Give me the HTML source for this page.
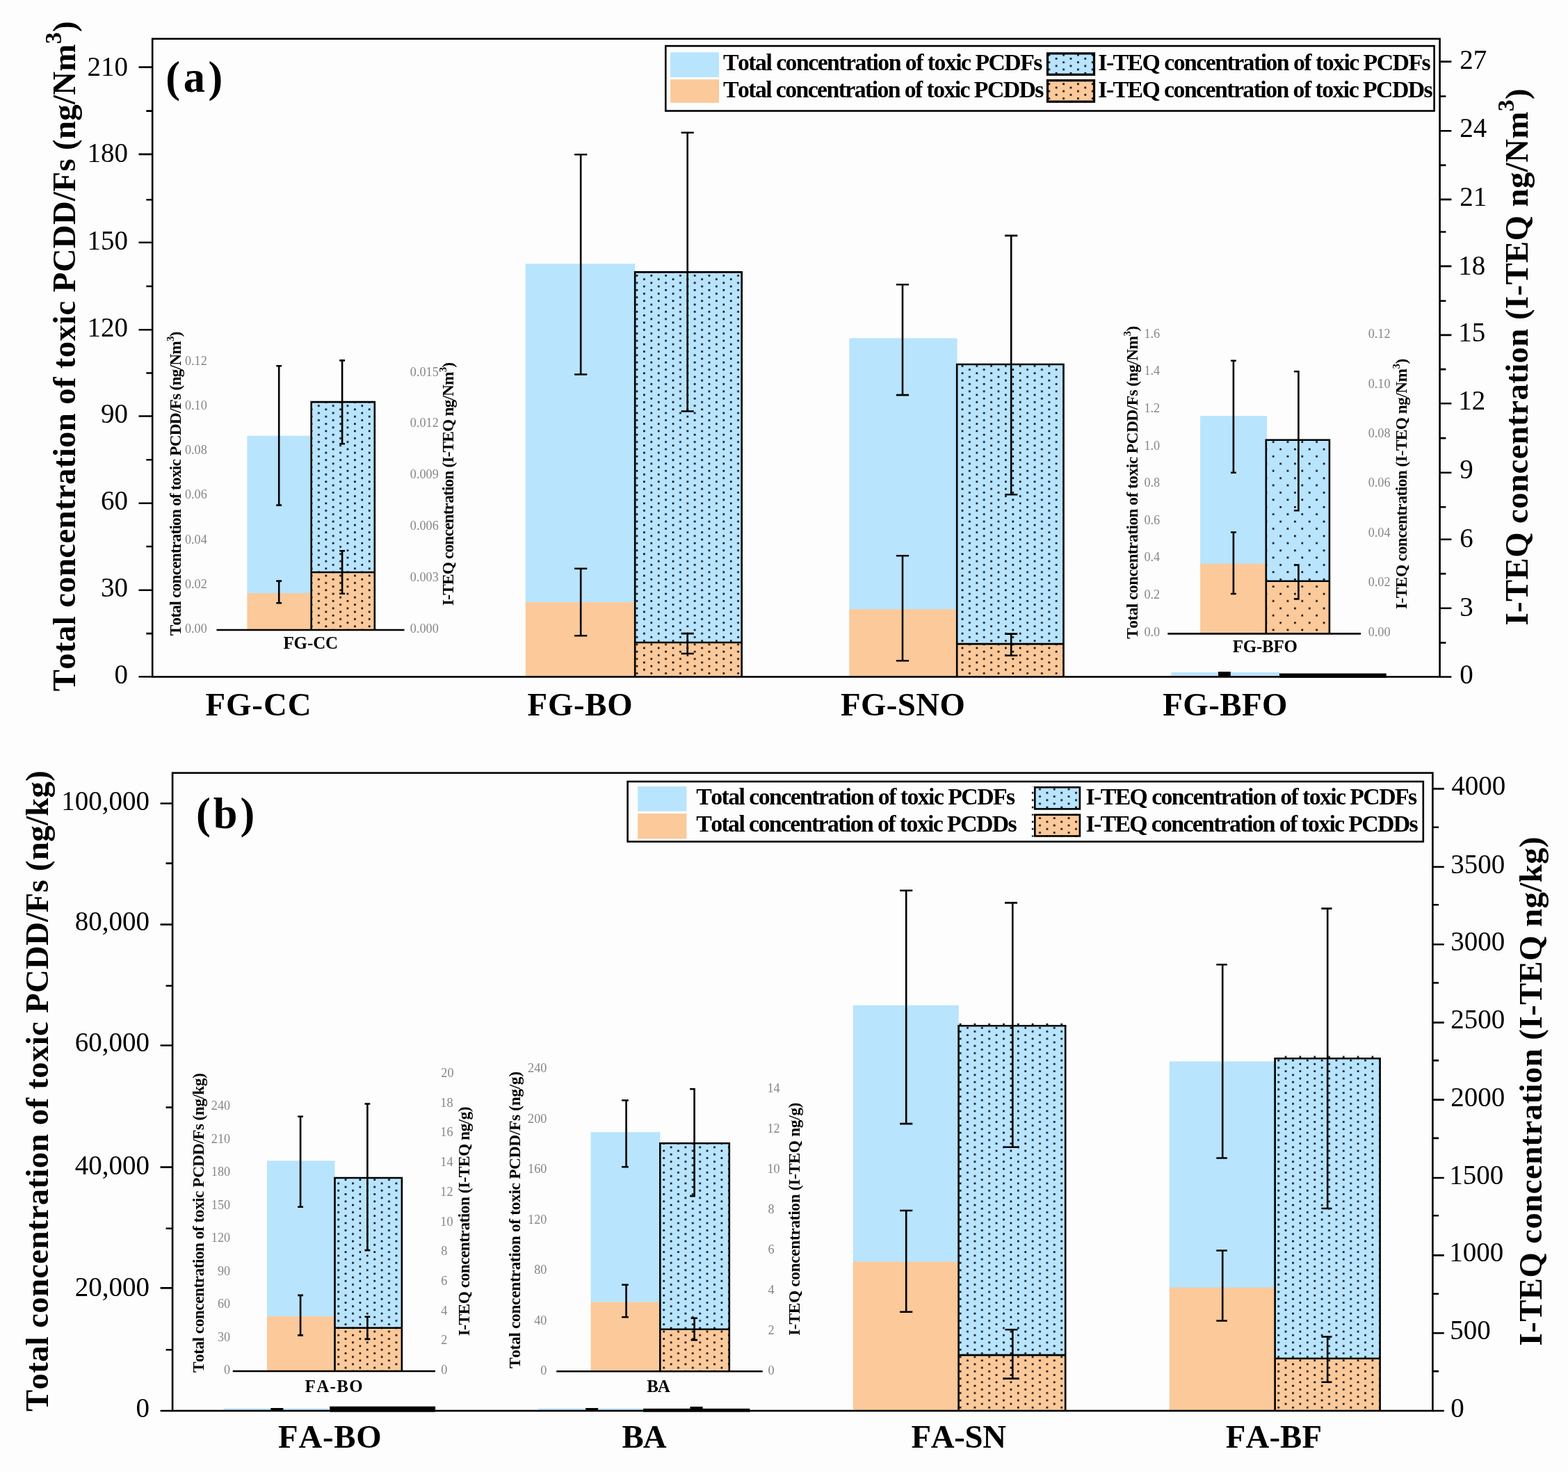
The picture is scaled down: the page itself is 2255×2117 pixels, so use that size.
<!DOCTYPE html>
<html lang="en">
<head>
<meta charset="utf-8">
<title>Total and I-TEQ concentrations of toxic PCDD/Fs</title>
<style>
html,body{margin:0;padding:0;background:#fdfdfd;}
body{width:2255px;height:2117px;overflow:hidden;}
svg{display:block;}
svg text{font-family:"Liberation Serif","Times New Roman",Times,serif;font-kerning:none;white-space:pre;}
</style>
</head>
<body>
<svg width="2255" height="2117" viewBox="0 0 2255 2117">
<defs>
<pattern id="pa" patternUnits="userSpaceOnUse" x="0" y="0" width="20.8" height="10.4"><rect x="-0.50" y="-0.10" width="2.6" height="2.6" fill="#000"/><rect x="-0.50" y="10.30" width="2.6" height="2.6" fill="#000"/><rect x="20.30" y="-0.10" width="2.6" height="2.6" fill="#000"/><rect x="20.30" y="10.30" width="2.6" height="2.6" fill="#000"/><rect x="9.90" y="5.10" width="2.6" height="2.6" fill="#000"/></pattern>
<pattern id="pb" patternUnits="userSpaceOnUse" x="0" y="0" width="20.8" height="10.4"><rect x="17.40" y="0.20" width="2.6" height="2.6" fill="#000"/><rect x="7.00" y="5.40" width="2.6" height="2.6" fill="#000"/></pattern>
<pattern id="ps" patternUnits="userSpaceOnUse" x="0" y="0" width="20.8" height="20.8"><rect x="-0.50" y="10.30" width="2.6" height="2.6" fill="#000"/><rect x="20.30" y="10.30" width="2.6" height="2.6" fill="#000"/><rect x="9.90" y="0.00" width="2.6" height="2.6" fill="#000"/></pattern>
</defs>
<rect width="2255" height="2117" fill="#fdfdfd"/>
<rect x="755.80" y="379.30" width="157.40" height="487.10" fill="#b8e4fd"/>
<rect x="755.80" y="866.10" width="157.40" height="107.30" fill="#fbc99a"/>
<rect x="913.20" y="391.40" width="153.50" height="532.60" fill="#b8e4fd"/>
<rect x="913.20" y="924.00" width="153.50" height="49.40" fill="#fbc99a"/>
<rect x="913.20" y="391.40" width="153.50" height="582.00" fill="url(#pa)"/>
<path d="M913.20 973.40V391.40H1066.70V973.40M913.20 924.00H1066.70" fill="none" stroke="#000" stroke-width="2.6" stroke-linejoin="miter"/>
<rect x="1221.30" y="486.40" width="155.20" height="390.10" fill="#b8e4fd"/>
<rect x="1221.30" y="876.20" width="155.20" height="97.20" fill="#fbc99a"/>
<rect x="1376.20" y="524.00" width="153.30" height="402.10" fill="#b8e4fd"/>
<rect x="1376.20" y="926.10" width="153.30" height="47.30" fill="#fbc99a"/>
<rect x="1376.20" y="524.00" width="153.30" height="449.40" fill="url(#pa)"/>
<path d="M1376.20 973.40V524.00H1529.50V973.40M1376.20 926.10H1529.50" fill="none" stroke="#000" stroke-width="2.6" stroke-linejoin="miter"/>
<rect x="1684.30" y="967.00" width="155.60" height="6.40" fill="#b8e4fd"/>
<rect x="1752.00" y="966.00" width="17.80" height="6.50" fill="#000"/>
<rect x="1839.90" y="968.50" width="153.80" height="6.20" fill="#000"/>
<path d="M835.20 222.20V538.50M826.10 222.20H844.30M826.10 538.50H844.30" fill="none" stroke="#000" stroke-width="2.6"/>
<path d="M835.20 817.80V914.30M826.10 817.80H844.30M826.10 914.30H844.30" fill="none" stroke="#000" stroke-width="2.6"/>
<path d="M988.70 190.80V591.50M979.60 190.80H997.80M979.60 591.50H997.80" fill="none" stroke="#000" stroke-width="2.6"/>
<path d="M988.70 911.10V940.00M979.60 911.10H997.80M979.60 940.00H997.80" fill="none" stroke="#000" stroke-width="2.6"/>
<path d="M1298.00 409.20V568.10M1288.90 409.20H1307.10M1288.90 568.10H1307.10" fill="none" stroke="#000" stroke-width="2.6"/>
<path d="M1298.00 799.30V950.20M1288.90 799.30H1307.10M1288.90 950.20H1307.10" fill="none" stroke="#000" stroke-width="2.6"/>
<path d="M1454.20 338.90V711.30M1445.10 338.90H1463.30M1445.10 711.30H1463.30" fill="none" stroke="#000" stroke-width="2.6"/>
<path d="M1454.20 911.60V942.80M1445.10 911.60H1463.30M1445.10 942.80H1463.30" fill="none" stroke="#000" stroke-width="2.6"/>
<rect x="355.40" y="626.70" width="92.30" height="226.60" fill="#b8e4fd"/>
<rect x="355.40" y="853.00" width="92.30" height="53.00" fill="#fbc99a"/>
<rect x="447.70" y="578.10" width="91.10" height="244.90" fill="#b8e4fd"/>
<rect x="447.70" y="823.00" width="91.10" height="83.00" fill="#fbc99a"/>
<rect x="447.70" y="578.10" width="91.10" height="327.90" fill="url(#pa)"/>
<path d="M447.70 906.00V578.10H538.80V906.00M447.70 823.00H538.80" fill="none" stroke="#000" stroke-width="2.6" stroke-linejoin="miter"/>
<path d="M311.50 906.00L581.50 906.00" stroke="#000" stroke-width="2.6"/>
<path d="M401.20 526.20V726.60M397.30 526.20H405.10M397.30 726.60H405.10" fill="none" stroke="#000" stroke-width="2.6"/>
<path d="M401.20 835.60V867.20M397.30 835.60H405.10M397.30 867.20H405.10" fill="none" stroke="#000" stroke-width="2.6"/>
<path d="M492.10 518.40V638.30M488.20 518.40H496.00M488.20 638.30H496.00" fill="none" stroke="#000" stroke-width="2.6"/>
<path d="M492.10 792.20V853.80M488.20 792.20H496.00M488.20 853.80H496.00" fill="none" stroke="#000" stroke-width="2.6"/>
<rect x="1726.10" y="598.20" width="95.90" height="212.80" fill="#b8e4fd"/>
<rect x="1726.10" y="810.70" width="95.90" height="100.70" fill="#fbc99a"/>
<rect x="1820.80" y="632.80" width="91.10" height="202.90" fill="#b8e4fd"/>
<rect x="1820.80" y="835.70" width="91.10" height="75.70" fill="#fbc99a"/>
<rect x="1820.80" y="632.80" width="91.10" height="278.60" fill="url(#ps)"/>
<path d="M1820.80 911.40V632.80H1911.90V911.40M1820.80 835.70H1911.90" fill="none" stroke="#000" stroke-width="2.6" stroke-linejoin="miter"/>
<path d="M1679.30 911.40L1957.00 911.40" stroke="#000" stroke-width="2.6"/>
<path d="M1773.90 518.70V679.80M1770.00 518.70H1777.80M1770.00 679.80H1777.80" fill="none" stroke="#000" stroke-width="2.6"/>
<path d="M1773.90 765.50V854.00M1770.00 765.50H1777.80M1770.00 854.00H1777.80" fill="none" stroke="#000" stroke-width="2.6"/>
<path d="M1867.40 534.30V734.30M1860.90 534.30H1868.70M1860.90 734.30H1868.70" fill="none" stroke="#000" stroke-width="2.6"/>
<path d="M1867.40 812.50V861.40M1860.90 812.50H1868.70M1860.90 861.40H1868.70" fill="none" stroke="#000" stroke-width="2.6"/>
<rect x="219.2" y="55.8" width="1851.40" height="917.60" fill="none" stroke="#000" stroke-width="2.6"/>
<path d="M199.5 973.30H219.2M199.5 848.80H219.2M199.5 723.80H219.2M199.5 598.50H219.2M199.5 474.20H219.2M199.5 348.70H219.2M199.5 221.90H219.2M199.5 96.60H219.2M210.3 911.10H219.2M210.3 786.00H219.2M210.3 661.30H219.2M210.3 536.50H219.2M210.3 411.70H219.2M210.3 287.20H219.2M210.3 159.60H219.2M2070.6 973.50H2087.4M2070.6 874.80H2087.4M2070.6 775.70H2087.4M2070.6 679.80H2087.4M2070.6 580.20H2087.4M2070.6 481.90H2087.4M2070.6 382.90H2087.4M2070.6 286.90H2087.4M2070.6 188.20H2087.4M2070.6 88.60H2087.4M2070.6 924.40H2079.4M2070.6 825.10H2079.4M2070.6 729.20H2079.4M2070.6 630.10H2079.4M2070.6 531.10H2079.4M2070.6 432.80H2079.4M2070.6 333.50H2079.4M2070.6 237.60H2079.4M2070.6 138.50H2079.4" fill="none" stroke="#000" stroke-width="2.6"/>
<text x="164.40" y="982.90" style="font-size:39.0px;">0</text>
<text x="144.90" y="857.80" style="font-size:39.0px;">30</text>
<text x="144.90" y="733.00" style="font-size:39.0px;">60</text>
<text x="144.90" y="607.60" style="font-size:39.0px;">90</text>
<text x="125.40" y="483.70" style="font-size:39.0px;">120</text>
<text x="125.40" y="358.50" style="font-size:39.0px;">150</text>
<text x="125.40" y="233.40" style="font-size:39.0px;">180</text>
<text x="125.40" y="108.70" style="font-size:39.0px;">210</text>
<text x="2099.30" y="982.80" style="font-size:39.0px;">0</text>
<text x="2099.30" y="886.10" style="font-size:39.0px;">3</text>
<text x="2099.30" y="787.30" style="font-size:39.0px;">6</text>
<text x="2099.30" y="688.30" style="font-size:39.0px;">9</text>
<text x="2097.30" y="589.20" style="font-size:39.0px;">12</text>
<text x="2097.30" y="490.70" style="font-size:39.0px;">15</text>
<text x="2097.30" y="394.50" style="font-size:39.0px;">18</text>
<text x="2099.30" y="296.00" style="font-size:39.0px;">21</text>
<text x="2099.30" y="196.90" style="font-size:39.0px;">24</text>
<text x="2099.30" y="98.60" style="font-size:39.0px;">27</text>
<text transform="translate(108.00,994.20) rotate(-90)" style="font-size:46.8px;font-weight:bold;letter-spacing:0.342px;"><tspan>Total concentration of toxic PCDD/Fs (ng/Nm</tspan><tspan dy="-20.36" style="font-size:33.70px">3</tspan><tspan dy="20.36">)</tspan></text>
<text transform="translate(2196.50,899.60) rotate(-90)" style="font-size:46.8px;font-weight:bold;letter-spacing:0.397px;"><tspan>I-TEQ concentration (I-TEQ ng/Nm</tspan><tspan dy="-19.19" style="font-size:33.70px">3</tspan><tspan dy="19.19">)</tspan></text>
<text x="238.20" y="131.60" style="font-size:62.4px;font-weight:bold;letter-spacing:4.714px;">(a)</text>
<rect x="957.3" y="66.1" width="1105.30" height="93.40" fill="#fdfdfd" stroke="#000" stroke-width="2.6"/>
<rect x="964.10" y="75.30" width="69.90" height="35.80" fill="#b8e4fd"/>
<rect x="964.10" y="114.20" width="69.90" height="33.60" fill="#fbc99a"/>
<rect x="1504.90" y="75.30" width="70.20" height="33.60" fill="#b8e4fd"/>
<rect x="1504.90" y="75.30" width="70.20" height="33.60" fill="url(#pa)"/>
<rect x="1506.50" y="76.90" width="67.00" height="30.40" fill="none" stroke="#000" stroke-width="3.2"/>
<rect x="1504.90" y="114.10" width="70.20" height="33.70" fill="#fbc99a"/>
<rect x="1504.90" y="114.10" width="70.20" height="33.70" fill="url(#pa)"/>
<rect x="1506.50" y="115.70" width="67.00" height="30.50" fill="none" stroke="#000" stroke-width="3.2"/>
<text x="1040.00" y="100.90" style="font-size:33.8px;font-weight:bold;letter-spacing:-1.550px;">Total concentration of toxic PCDFs</text>
<text x="1040.00" y="139.80" style="font-size:33.8px;font-weight:bold;letter-spacing:-1.604px;">Total concentration of toxic PCDDs</text>
<text x="1579.30" y="100.90" style="font-size:33.8px;font-weight:bold;letter-spacing:-1.547px;">I-TEQ concentration of toxic PCDFs</text>
<text x="1579.30" y="139.80" style="font-size:33.8px;font-weight:bold;letter-spacing:-1.567px;">I-TEQ concentration of toxic PCDDs</text>
<text x="295.40" y="1029.00" style="font-size:46.8px;font-weight:bold;letter-spacing:0.984px;">FG-CC</text>
<text x="758.60" y="1029.00" style="font-size:46.8px;font-weight:bold;letter-spacing:0.704px;">FG-BO</text>
<text x="1208.90" y="1029.00" style="font-size:46.8px;font-weight:bold;letter-spacing:0.462px;">FG-SNO</text>
<text x="1672.30" y="1029.00" style="font-size:46.8px;font-weight:bold;letter-spacing:0.466px;">FG-BFO</text>
<text transform="translate(259.70,914.30) rotate(-90)" style="font-size:23.4px;font-weight:bold;letter-spacing:-0.809px;"><tspan>Total concentration of toxic PCDD/Fs (ng/Nm</tspan><tspan dy="-10.06" style="font-size:14.98px">3</tspan><tspan dy="10.06">)</tspan></text>
<text transform="translate(652.00,871.00) rotate(-90)" style="font-size:23.4px;font-weight:bold;letter-spacing:-0.860px;"><tspan>I-TEQ concentration (I-TEQ ng/Nm</tspan><tspan dy="-10.06" style="font-size:14.98px">3</tspan><tspan dy="10.06">)</tspan></text>
<text x="265.97" y="910.01" style="font-size:18.2px;fill:#868686;">0.00</text>
<text x="265.97" y="845.81" style="font-size:18.2px;fill:#868686;">0.02</text>
<text x="265.97" y="781.61" style="font-size:18.2px;fill:#868686;">0.04</text>
<text x="265.97" y="717.41" style="font-size:18.2px;fill:#868686;">0.06</text>
<text x="265.97" y="653.21" style="font-size:18.2px;fill:#868686;">0.08</text>
<text x="265.97" y="589.01" style="font-size:18.2px;fill:#868686;">0.10</text>
<text x="265.97" y="524.81" style="font-size:18.2px;fill:#868686;">0.12</text>
<text x="589.80" y="909.51" style="font-size:18.2px;fill:#868686;">0.000</text>
<text x="589.80" y="835.71" style="font-size:18.2px;fill:#868686;">0.003</text>
<text x="589.80" y="761.91" style="font-size:18.2px;fill:#868686;">0.006</text>
<text x="589.80" y="688.11" style="font-size:18.2px;fill:#868686;">0.009</text>
<text x="589.80" y="614.31" style="font-size:18.2px;fill:#868686;">0.012</text>
<text x="589.80" y="540.51" style="font-size:18.2px;fill:#868686;">0.015</text>
<text x="407.40" y="932.80" style="font-size:25.0px;font-weight:bold;letter-spacing:-0.099px;">FG-CC</text>
<text transform="translate(1635.70,918.80) rotate(-90)" style="font-size:23.4px;font-weight:bold;letter-spacing:-0.527px;"><tspan>Total concentration of toxic PCDD/Fs (ng/Nm</tspan><tspan dy="-10.06" style="font-size:14.98px">3</tspan><tspan dy="10.06">)</tspan></text>
<text transform="translate(2023.00,876.00) rotate(-90)" style="font-size:23.4px;font-weight:bold;letter-spacing:-0.554px;"><tspan>I-TEQ concentration (I-TEQ ng/Nm</tspan><tspan dy="-10.06" style="font-size:14.98px">3</tspan><tspan dy="10.06">)</tspan></text>
<text x="1645.46" y="914.51" style="font-size:18.2px;fill:#868686;">0.0</text>
<text x="1645.46" y="860.91" style="font-size:18.2px;fill:#868686;">0.2</text>
<text x="1645.46" y="807.31" style="font-size:18.2px;fill:#868686;">0.4</text>
<text x="1645.46" y="753.71" style="font-size:18.2px;fill:#868686;">0.6</text>
<text x="1645.46" y="700.11" style="font-size:18.2px;fill:#868686;">0.8</text>
<text x="1645.46" y="646.51" style="font-size:18.2px;fill:#868686;">1.0</text>
<text x="1645.46" y="592.91" style="font-size:18.2px;fill:#868686;">1.2</text>
<text x="1645.46" y="539.31" style="font-size:18.2px;fill:#868686;">1.4</text>
<text x="1645.46" y="485.71" style="font-size:18.2px;fill:#868686;">1.6</text>
<text x="1967.70" y="914.51" style="font-size:18.2px;fill:#868686;">0.00</text>
<text x="1967.70" y="843.11" style="font-size:18.2px;fill:#868686;">0.02</text>
<text x="1967.70" y="771.71" style="font-size:18.2px;fill:#868686;">0.04</text>
<text x="1967.70" y="700.31" style="font-size:18.2px;fill:#868686;">0.06</text>
<text x="1967.70" y="628.91" style="font-size:18.2px;fill:#868686;">0.08</text>
<text x="1967.70" y="557.51" style="font-size:18.2px;fill:#868686;">0.10</text>
<text x="1967.70" y="486.11" style="font-size:18.2px;fill:#868686;">0.12</text>
<text x="1772.70" y="938.00" style="font-size:25.0px;font-weight:bold;letter-spacing:-0.238px;">FG-BFO</text>
<rect x="1226.80" y="1445.80" width="152.00" height="369.10" fill="#b8e4fd"/>
<rect x="1226.80" y="1814.60" width="152.00" height="214.40" fill="#fbc99a"/>
<rect x="1378.60" y="1475.20" width="153.60" height="473.70" fill="#b8e4fd"/>
<rect x="1378.60" y="1948.90" width="153.60" height="80.10" fill="#fbc99a"/>
<rect x="1378.60" y="1471.20" width="153.60" height="557.80" fill="url(#pb)"/>
<path d="M1378.60 2029.00V1475.20H1532.20V2029.00M1378.60 1948.90H1532.20" fill="none" stroke="#000" stroke-width="2.6" stroke-linejoin="miter"/>
<rect x="1681.80" y="1526.50" width="152.00" height="325.50" fill="#b8e4fd"/>
<rect x="1681.80" y="1851.70" width="152.00" height="177.30" fill="#fbc99a"/>
<rect x="1833.60" y="1522.20" width="151.00" height="431.50" fill="#b8e4fd"/>
<rect x="1833.60" y="1953.70" width="151.00" height="75.30" fill="#fbc99a"/>
<rect x="1833.60" y="1518.20" width="151.00" height="510.80" fill="url(#pb)"/>
<path d="M1833.60 2029.00V1522.20H1984.60V2029.00M1833.60 1953.70H1984.60" fill="none" stroke="#000" stroke-width="2.6" stroke-linejoin="miter"/>
<rect x="321.60" y="2025.60" width="151.20" height="3.40" fill="#b8e4fd"/>
<rect x="389.30" y="2025.00" width="18.10" height="4.50" fill="#000"/>
<rect x="474.20" y="2022.70" width="151.90" height="7.90" fill="#000"/>
<rect x="774.20" y="2025.60" width="150.90" height="3.40" fill="#b8e4fd"/>
<rect x="842.20" y="2025.00" width="17.90" height="4.50" fill="#000"/>
<rect x="925.10" y="2025.80" width="153.30" height="4.80" fill="#000"/>
<rect x="992.50" y="2023.00" width="18.10" height="6.00" fill="#000"/>
<path d="M1303.20 1280.70V1616.10M1294.10 1280.70H1312.30M1294.10 1616.10H1312.30" fill="none" stroke="#000" stroke-width="2.6"/>
<path d="M1303.20 1741.00V1886.70M1294.10 1741.00H1312.30M1294.10 1886.70H1312.30" fill="none" stroke="#000" stroke-width="2.6"/>
<path d="M1456.30 1298.40V1649.80M1445.00 1298.40H1463.00M1442.90 1649.80H1465.60" fill="none" stroke="#000" stroke-width="2.6"/>
<path d="M1456.30 1912.30V1982.60M1445.50 1912.30H1463.50M1442.90 1982.60H1465.60" fill="none" stroke="#000" stroke-width="2.6"/>
<path d="M1758.20 1387.20V1665.50M1749.30 1387.20H1764.80M1749.30 1665.50H1764.80" fill="none" stroke="#000" stroke-width="2.6"/>
<path d="M1758.20 1798.50V1899.50M1749.30 1798.50H1764.80M1749.30 1899.50H1764.80" fill="none" stroke="#000" stroke-width="2.6"/>
<path d="M1909.20 1306.60V1738.00M1900.30 1306.60H1915.50M1900.30 1738.00H1915.50" fill="none" stroke="#000" stroke-width="2.6"/>
<path d="M1909.20 1922.50V1987.70M1900.30 1922.50H1915.50M1900.30 1987.70H1915.50" fill="none" stroke="#000" stroke-width="2.6"/>
<rect x="384.00" y="1669.40" width="97.60" height="224.10" fill="#b8e4fd"/>
<rect x="384.00" y="1893.20" width="97.60" height="78.80" fill="#fbc99a"/>
<rect x="481.50" y="1694.00" width="96.40" height="215.80" fill="#b8e4fd"/>
<rect x="481.50" y="1909.80" width="96.40" height="62.20" fill="#fbc99a"/>
<rect x="481.50" y="1694.00" width="96.40" height="278.00" fill="url(#pb)"/>
<path d="M481.50 1972.00V1694.00H577.90V1972.00M481.50 1909.80H577.90" fill="none" stroke="#000" stroke-width="2.6" stroke-linejoin="miter"/>
<path d="M334.80 1972.00L626.00 1972.00" stroke="#000" stroke-width="2.6"/>
<path d="M432.10 1605.70V1735.70M428.20 1605.70H436.00M428.20 1735.70H436.00" fill="none" stroke="#000" stroke-width="2.6"/>
<path d="M432.10 1862.90V1920.40M428.20 1862.90H436.00M428.20 1920.40H436.00" fill="none" stroke="#000" stroke-width="2.6"/>
<path d="M528.40 1587.50V1798.10M524.50 1587.50H532.30M524.50 1798.10H532.30" fill="none" stroke="#000" stroke-width="2.6"/>
<path d="M528.40 1893.70V1925.90M524.50 1893.70H532.30M524.50 1925.90H532.30" fill="none" stroke="#000" stroke-width="2.6"/>
<rect x="849.60" y="1628.20" width="99.80" height="244.60" fill="#b8e4fd"/>
<rect x="849.60" y="1872.50" width="99.80" height="99.80" fill="#fbc99a"/>
<rect x="949.30" y="1644.30" width="99.50" height="267.50" fill="#b8e4fd"/>
<rect x="949.30" y="1911.80" width="99.50" height="60.50" fill="#fbc99a"/>
<rect x="949.30" y="1644.30" width="99.50" height="328.00" fill="url(#pb)"/>
<path d="M949.30 1972.30V1644.30H1048.80V1972.30M949.30 1911.80H1048.80" fill="none" stroke="#000" stroke-width="2.6" stroke-linejoin="miter"/>
<path d="M800.20 1972.30L1096.70 1972.30" stroke="#000" stroke-width="2.6"/>
<path d="M900.60 1582.50V1678.30M894.10 1582.50H903.90M894.10 1678.30H903.90" fill="none" stroke="#000" stroke-width="2.6"/>
<path d="M900.60 1847.70V1894.30M894.10 1847.70H903.90M894.10 1894.30H903.90" fill="none" stroke="#000" stroke-width="2.6"/>
<path d="M998.60 1566.30V1720.10M992.10 1566.30H999.90M992.10 1720.10H999.90" fill="none" stroke="#000" stroke-width="2.6"/>
<path d="M998.60 1895.70V1927.10M993.60 1895.70H1003.00M993.60 1927.10H1003.00" fill="none" stroke="#000" stroke-width="2.6"/>
<rect x="248.1" y="1111.6" width="1812.30" height="917.40" fill="none" stroke="#000" stroke-width="2.6"/>
<path d="M230.6 2029.00H248.1M230.6 1852.40H248.1M230.6 1678.60H248.1M230.6 1503.50H248.1M230.6 1329.60H248.1M230.6 1155.50H248.1M238.6 1941.20H248.1M238.6 1766.80H248.1M238.6 1592.60H248.1M238.6 1417.80H248.1M238.6 1241.60H248.1M2060.4 2029.00H2076.8M2060.4 1917.30H2076.8M2060.4 1805.40H2076.8M2060.4 1694.00H2076.8M2060.4 1581.60H2076.8M2060.4 1470.60H2076.8M2060.4 1358.20H2076.8M2060.4 1246.80H2076.8M2060.4 1134.40H2076.8M2060.4 1972.10H2069.1M2060.4 1860.70H2069.1M2060.4 1748.30H2069.1M2060.4 1636.90H2069.1M2060.4 1525.10H2069.1M2060.4 1413.50H2069.1M2060.4 1301.30H2069.1M2060.4 1189.70H2069.1" fill="none" stroke="#000" stroke-width="2.6"/>
<text x="195.50" y="2037.50" style="font-size:39.0px;">0</text>
<text x="107.75" y="1864.00" style="font-size:39.0px;">20,000</text>
<text x="107.75" y="1689.20" style="font-size:39.0px;">40,000</text>
<text x="107.75" y="1511.70" style="font-size:39.0px;">60,000</text>
<text x="107.75" y="1338.10" style="font-size:39.0px;">80,000</text>
<text x="88.25" y="1164.50" style="font-size:39.0px;">100,000</text>
<text x="2086.30" y="2037.70" style="font-size:39.0px;">0</text>
<text x="2085.30" y="1926.30" style="font-size:39.0px;">500</text>
<text x="2084.30" y="1814.40" style="font-size:39.0px;">1000</text>
<text x="2084.30" y="1703.00" style="font-size:39.0px;">1500</text>
<text x="2086.30" y="1590.60" style="font-size:39.0px;">2000</text>
<text x="2086.30" y="1479.10" style="font-size:39.0px;">2500</text>
<text x="2086.30" y="1367.20" style="font-size:39.0px;">3000</text>
<text x="2086.30" y="1255.80" style="font-size:39.0px;">3500</text>
<text x="2087.30" y="1143.40" style="font-size:39.0px;">4000</text>
<text transform="translate(68.50,2030.00) rotate(-90)" style="font-size:46.8px;font-weight:bold;letter-spacing:0.310px;"><tspan>Total concentration of toxic PCDD/Fs (ng/kg)</tspan></text>
<text transform="translate(2216.70,1935.40) rotate(-90)" style="font-size:46.8px;font-weight:bold;letter-spacing:0.409px;"><tspan>I-TEQ concentration (I-TEQ ng/kg)</tspan></text>
<text x="282.00" y="1190.50" style="font-size:62.4px;font-weight:bold;letter-spacing:4.062px;">(b)</text>
<rect x="902.6" y="1124.0" width="1144.20" height="86.40" fill="#fdfdfd" stroke="#000" stroke-width="2.6"/>
<rect x="917.20" y="1131.00" width="70.20" height="35.70" fill="#b8e4fd"/>
<rect x="917.20" y="1170.00" width="70.20" height="36.20" fill="#fbc99a"/>
<rect x="1487.00" y="1131.00" width="67.20" height="33.70" fill="#b8e4fd"/>
<rect x="1483.50" y="1131.00" width="70.70" height="33.70" fill="url(#pb)"/>
<rect x="1488.30" y="1132.30" width="64.60" height="31.10" fill="none" stroke="#000" stroke-width="2.6"/>
<rect x="1487.00" y="1170.50" width="67.20" height="33.20" fill="#fbc99a"/>
<rect x="1483.50" y="1170.50" width="70.70" height="33.20" fill="url(#pb)"/>
<rect x="1488.30" y="1171.80" width="64.60" height="30.60" fill="none" stroke="#000" stroke-width="2.6"/>
<text x="1001.20" y="1156.60" style="font-size:33.8px;font-weight:bold;letter-spacing:-1.563px;">Total concentration of toxic PCDFs</text>
<text x="1001.20" y="1195.80" style="font-size:33.8px;font-weight:bold;letter-spacing:-1.601px;">Total concentration of toxic PCDDs</text>
<text x="1561.50" y="1156.60" style="font-size:33.8px;font-weight:bold;letter-spacing:-1.599px;">I-TEQ concentration of toxic PCDFs</text>
<text x="1561.50" y="1195.80" style="font-size:33.8px;font-weight:bold;letter-spacing:-1.670px;">I-TEQ concentration of toxic PCDDs</text>
<text x="400.10" y="2082.40" style="font-size:46.8px;font-weight:bold;letter-spacing:0.731px;">FA-BO</text>
<text x="894.50" y="2082.40" style="font-size:46.8px;font-weight:bold;letter-spacing:-1.013px;">BA</text>
<text x="1310.40" y="2082.40" style="font-size:46.8px;font-weight:bold;letter-spacing:-0.298px;">FA-SN</text>
<text x="1762.70" y="2082.40" style="font-size:46.8px;font-weight:bold;letter-spacing:0.156px;">FA-BF</text>
<text transform="translate(293.30,1974.00) rotate(-90)" style="font-size:23.4px;font-weight:bold;letter-spacing:-0.543px;"><tspan>Total concentration of toxic PCDD/Fs (ng/kg)</tspan></text>
<text transform="translate(674.70,1921.30) rotate(-90)" style="font-size:23.4px;font-weight:bold;letter-spacing:-0.533px;"><tspan>I-TEQ concentration (I-TEQ ng/g)</tspan></text>
<text x="322.00" y="1976.01" style="font-size:18.2px;fill:#868686;">0</text>
<text x="312.91" y="1928.51" style="font-size:18.2px;fill:#868686;">30</text>
<text x="312.91" y="1881.01" style="font-size:18.2px;fill:#868686;">60</text>
<text x="312.91" y="1833.51" style="font-size:18.2px;fill:#868686;">90</text>
<text x="303.81" y="1786.01" style="font-size:18.2px;fill:#868686;">120</text>
<text x="303.81" y="1738.51" style="font-size:18.2px;fill:#868686;">150</text>
<text x="303.81" y="1691.01" style="font-size:18.2px;fill:#868686;">180</text>
<text x="303.81" y="1643.51" style="font-size:18.2px;fill:#868686;">210</text>
<text x="303.81" y="1596.01" style="font-size:18.2px;fill:#868686;">240</text>
<text x="634.30" y="1976.01" style="font-size:18.2px;fill:#868686;">0</text>
<text x="634.30" y="1933.31" style="font-size:18.2px;fill:#868686;">2</text>
<text x="634.30" y="1890.61" style="font-size:18.2px;fill:#868686;">4</text>
<text x="634.30" y="1847.91" style="font-size:18.2px;fill:#868686;">6</text>
<text x="634.30" y="1805.21" style="font-size:18.2px;fill:#868686;">8</text>
<text x="633.30" y="1762.51" style="font-size:18.2px;fill:#868686;">10</text>
<text x="633.30" y="1719.81" style="font-size:18.2px;fill:#868686;">12</text>
<text x="633.30" y="1677.11" style="font-size:18.2px;fill:#868686;">14</text>
<text x="633.30" y="1634.41" style="font-size:18.2px;fill:#868686;">16</text>
<text x="633.30" y="1591.71" style="font-size:18.2px;fill:#868686;">18</text>
<text x="634.30" y="1549.01" style="font-size:18.2px;fill:#868686;">20</text>
<text x="438.50" y="2002.00" style="font-size:25.0px;font-weight:bold;letter-spacing:1.369px;">FA-BO</text>
<text transform="translate(747.90,1968.10) rotate(-90)" style="font-size:23.4px;font-weight:bold;letter-spacing:-0.334px;"><tspan>Total concentration of toxic PCDD/Fs (ng/g)</tspan></text>
<text transform="translate(1149.60,1920.70) rotate(-90)" style="font-size:23.4px;font-weight:bold;letter-spacing:-0.362px;"><tspan>I-TEQ concentration (I-TEQ ng/g)</tspan></text>
<text x="777.30" y="1977.01" style="font-size:18.2px;fill:#868686;">0</text>
<text x="768.21" y="1904.51" style="font-size:18.2px;fill:#868686;">40</text>
<text x="768.21" y="1832.01" style="font-size:18.2px;fill:#868686;">80</text>
<text x="759.11" y="1759.51" style="font-size:18.2px;fill:#868686;">120</text>
<text x="759.11" y="1687.01" style="font-size:18.2px;fill:#868686;">160</text>
<text x="759.11" y="1614.51" style="font-size:18.2px;fill:#868686;">200</text>
<text x="759.11" y="1542.01" style="font-size:18.2px;fill:#868686;">240</text>
<text x="1104.50" y="1977.01" style="font-size:18.2px;fill:#868686;">0</text>
<text x="1104.50" y="1919.01" style="font-size:18.2px;fill:#868686;">2</text>
<text x="1104.50" y="1861.01" style="font-size:18.2px;fill:#868686;">4</text>
<text x="1104.50" y="1803.01" style="font-size:18.2px;fill:#868686;">6</text>
<text x="1104.50" y="1745.01" style="font-size:18.2px;fill:#868686;">8</text>
<text x="1103.50" y="1687.01" style="font-size:18.2px;fill:#868686;">10</text>
<text x="1103.50" y="1629.01" style="font-size:18.2px;fill:#868686;">12</text>
<text x="1103.50" y="1571.01" style="font-size:18.2px;fill:#868686;">14</text>
<text x="930.20" y="2001.60" style="font-size:25.0px;font-weight:bold;letter-spacing:-1.175px;">BA</text>
</svg>
</body>
</html>
